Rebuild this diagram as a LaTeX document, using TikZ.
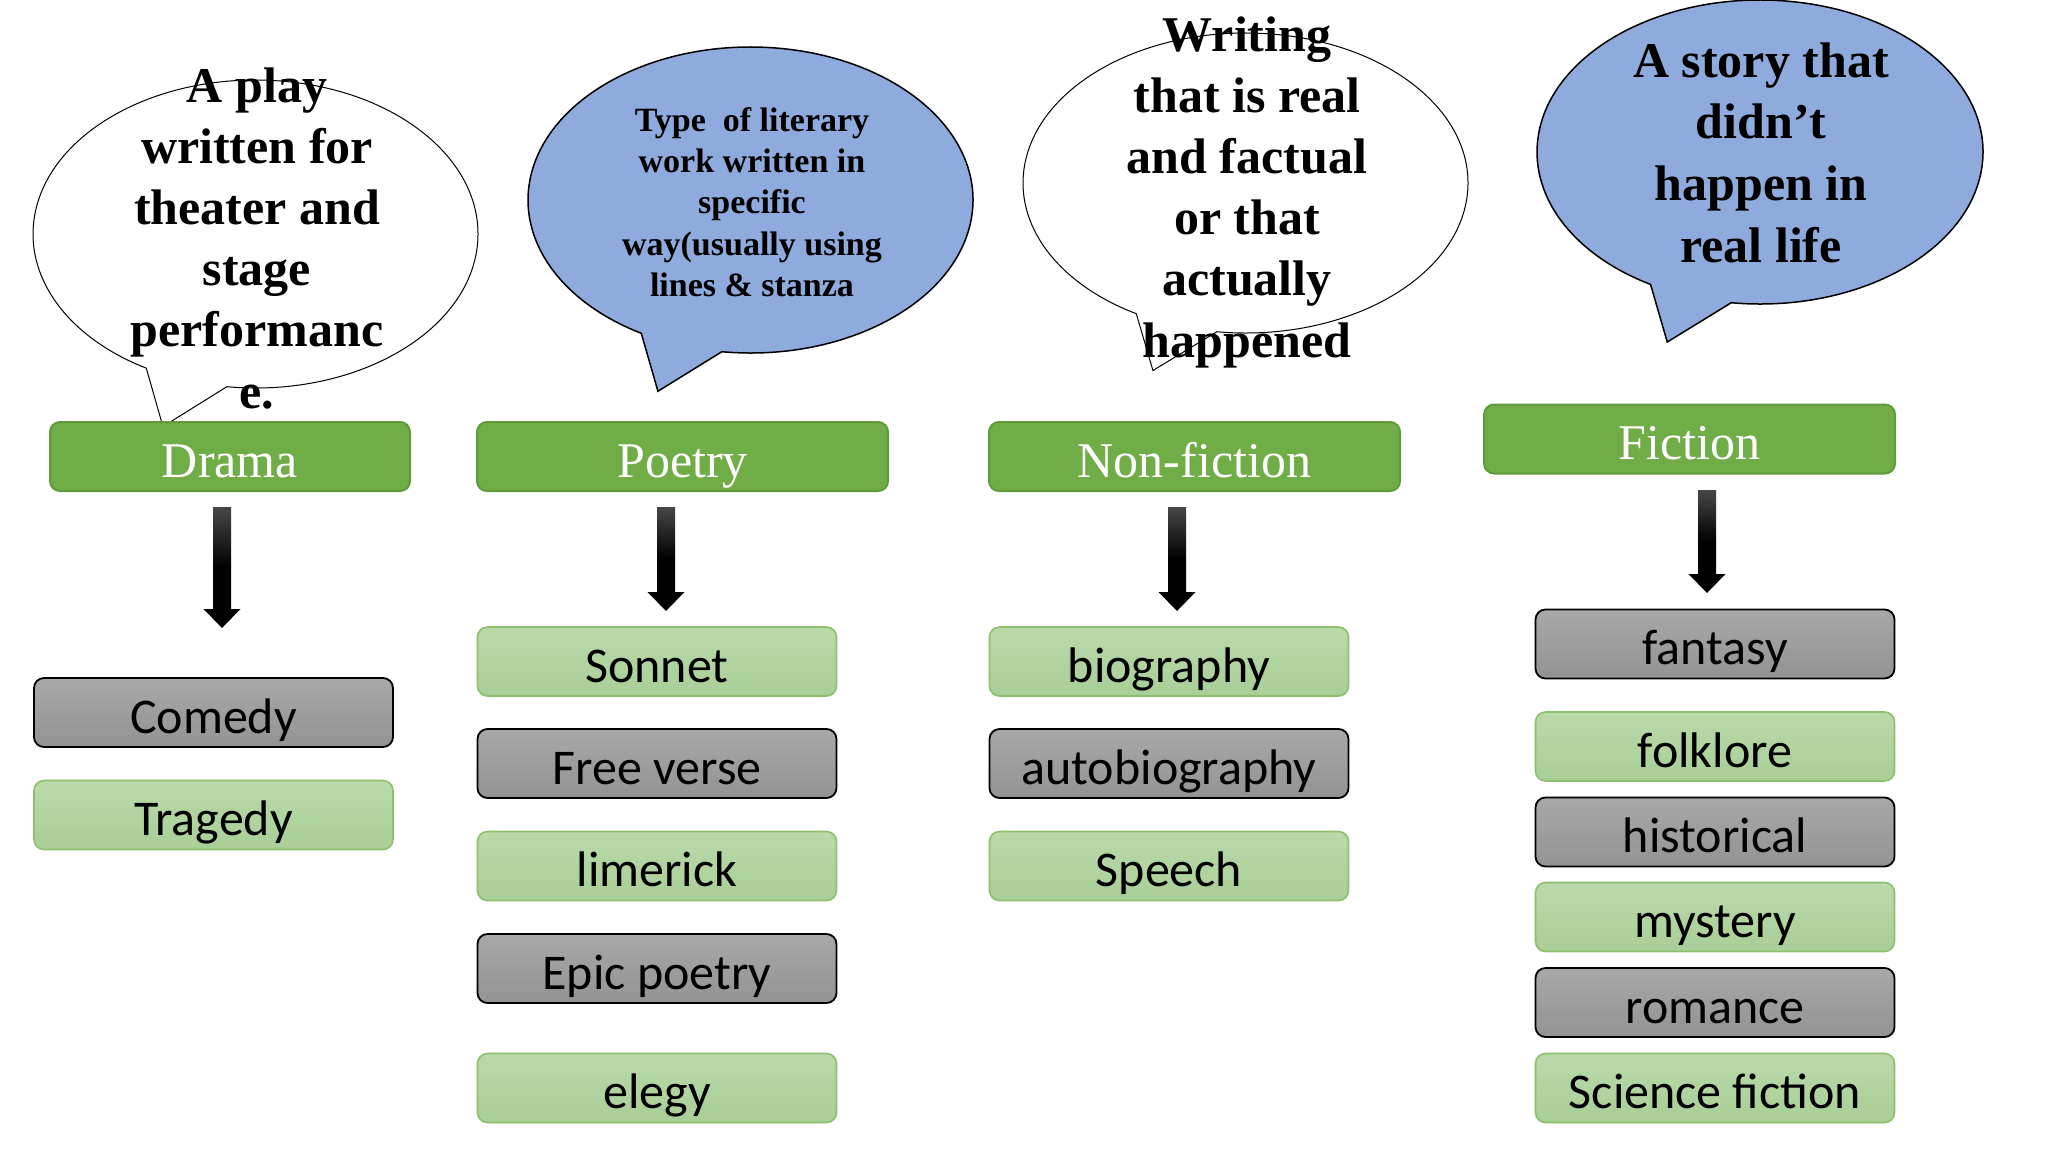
\documentclass[tikz,border=0pt]{standalone}
\usepackage{fontspec}
\setmainfont{Liberation Serif}
\newfontfamily\calib{Carlito}
\usetikzlibrary{calc}
\definecolor{hdrfill}{HTML}{70AD47}
\definecolor{hdrline}{HTML}{5F9A3D}
\definecolor{lgtop}{HTML}{BAD9AA}
\definecolor{lgbot}{HTML}{A9CE97}
\definecolor{lgline}{HTML}{8CC06C}
\definecolor{gytop}{HTML}{A8A8A8}
\definecolor{gybot}{HTML}{939393}
\definecolor{bubblue}{HTML}{8FAADC}
\newcommand\myblockarrow[2]{%
  \shade[blk] ($(#1)+(-9,0)$) -- ($(#1)+(9,0)$) -- ($(#2)+(9,19)$) -- ($(#2)+(18.5,19)$)
    -- (#2) -- ($(#2)+(-18.5,19)$) -- ($(#2)+(-9,19)$) -- cycle;}
\newcommand\mybubble[5]{%
  \path[#1] (#2,#3) ++(262.6:#4 and #5)
    arc[start angle=262.6, end angle=600.6, x radius=#4, y radius=#5]
    -- ($(#2,#3)+(-0.416*#4,-1.25*#5)$) -- cycle;}
\tikzset{
  hdr/.style={draw=hdrline, line width=2pt, fill=hdrfill, rounded corners=10pt,
    minimum height=69pt, inner sep=0pt, text height=45pt, text depth=4pt,
    text=white, font=\fontsize{50}{60}\selectfont},
  subbox/.style={rounded corners=10pt, minimum width=359pt, minimum height=69pt,
    inner sep=0pt, text height=45pt, text depth=4pt, text=black,
    font=\calib\fontsize{50}{60}\selectfont},
  lg/.style={subbox, draw=lgline, line width=1.6pt, top color=lgtop, bottom color=lgbot},
  gy/.style={subbox, draw=black, line width=1.8pt, top color=gytop, bottom color=gybot},
  blk/.style={top color=black!72, bottom color=black, middle color=black},
  bubw/.style={draw=black, line width=1pt, fill=white},
  bubb/.style={draw=black, line width=1.5pt, fill=bubblue},
  btxt/.style={anchor=base, inner sep=0pt},
}
\begin{document}
\begin{tikzpicture}[x=1pt,y=1pt]
\useasboundingbox (0,0) rectangle (2048,-1152);
\fill[white] (0,0) rectangle (2048,-1152);

% speech bubbles
\mybubble{bubw}{255.5}{-234}{222.5}{154}
\mybubble{bubb}{750.5}{-200}{222.5}{153}
\mybubble{bubw}{1245.5}{-183}{222.5}{150}
\mybubble{bubb}{1760}{-152}{223}{152}

\node[btxt, font=\bfseries\fontsize{50}{61.2}\selectfont] (dramaT) at (257,-102)
  {\tabcolsep=0pt\begin{tabular}[t]{c}A play\\written for\\theater and\\stage\\performanc\\e.\end{tabular}};
\node[btxt, font=\bfseries\fontsize{34}{41.1}\selectfont] (poetryT) at (752,-131.7)
  {\tabcolsep=0pt\begin{tabular}[t]{c}Type~ of literary\\work written in\\specific\\way(usually using\\lines \& stanza\end{tabular}};
\node[btxt, font=\bfseries\fontsize{50}{61.2}\selectfont] (nonficT) at (1247,-51)
  {\tabcolsep=0pt\begin{tabular}[t]{c}Writing\\that is real\\and factual\\or that\\actually\\happened\end{tabular}};
\node[btxt, font=\bfseries\fontsize{50}{61.7}\selectfont] (fictionT) at (1761,-77)
  {\tabcolsep=0pt\begin{tabular}[t]{c}A story that\\didn’t\\happen in\\real life\end{tabular}};

% headers
\node[hdr, minimum width=360pt] (drama) at (230,-456.5) {Drama};
\node[hdr, minimum width=411pt] (poetry) at (682.5,-456.5) {Poetry};
\node[hdr, minimum width=411pt] (nonfic) at (1194.5,-456.5) {Non-fiction};
\node[hdr, minimum width=411pt] (fiction) at (1689.5,-439) {Fiction};

% drama column
\node[gy] (comedy) at (213.5,-712.5) {Comedy};
\node[lg] (tragedy) at (213.5,-815) {Tragedy};

% poetry column
\node[lg] (sonnet) at (657,-661.5) {Sonnet};
\node[gy] (freeverse) at (657,-763.5) {Free verse};
\node[lg] (limerick) at (657,-866) {limerick};
\node[gy] (epic) at (657,-968.5) {Epic poetry};
\node[lg] (elegy) at (657,-1088) {elegy};

% non-fiction column
\node[lg] (biography) at (1169,-661.5) {biography};
\node[gy] (autobio) at (1169,-763.5) {autobiography};
\node[lg] (speech) at (1169,-866) {Speech};

% fiction column
\node[gy] (fantasy) at (1715,-644) {fantasy};
\node[lg] (folklore) at (1715,-746.5) {folklore};
\node[gy] (historical) at (1715,-832) {historical};
\node[lg] (mystery) at (1715,-917) {mystery};
\node[gy] (romance) at (1715,-1002.5) {romance};
\node[lg] (scifi) at (1715,-1088) {Science fiction};

% block arrows
\coordinate (drA) at (222,-507);   \coordinate (drB) at (222,-628);
\coordinate (poA) at (666,-507);   \coordinate (poB) at (666,-611);
\coordinate (nfA) at (1177,-507);  \coordinate (nfB) at (1177,-611);
\coordinate (fiA) at (1707,-490);  \coordinate (fiB) at (1707,-593);
\myblockarrow{drA}{drB}
\myblockarrow{poA}{poB}
\myblockarrow{nfA}{nfB}
\myblockarrow{fiA}{fiB}
\end{tikzpicture}
\end{document}
